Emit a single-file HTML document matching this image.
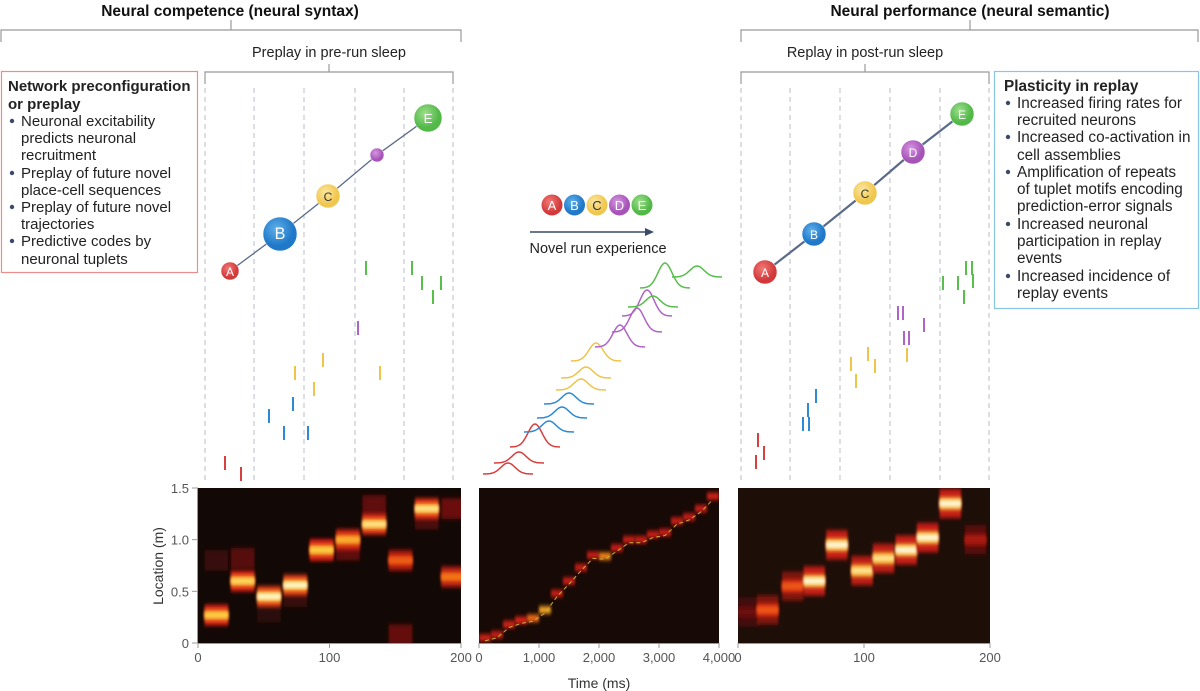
<!DOCTYPE html>
<html><head><meta charset="utf-8"><style>
html,body{margin:0;padding:0;background:#fff;}
svg{display:block;font-family:"Liberation Sans",sans-serif;}
</style></head><body>
<svg id="fig" width="1200" height="691" viewBox="0 0 1200 691" xmlns="http://www.w3.org/2000/svg">
<defs>
<filter id="blur" x="-30%" y="-60%" width="160%" height="220%"><feGaussianBlur stdDeviation="1.2 2.2"/></filter>
<clipPath id="clipL"><rect x="198" y="488" width="263" height="155"/></clipPath>
<clipPath id="clipM"><rect x="479" y="488" width="240" height="155"/></clipPath>
<clipPath id="clipR"><rect x="738" y="488" width="252" height="155"/></clipPath>
<radialGradient id="gA" cx="40%" cy="35%"><stop offset="0" stop-color="#f07a78"/><stop offset="1" stop-color="#d23a3a"/></radialGradient>
<radialGradient id="gB" cx="40%" cy="35%"><stop offset="0" stop-color="#5fb0ea"/><stop offset="1" stop-color="#1f78c8"/></radialGradient>
<radialGradient id="gC" cx="40%" cy="35%"><stop offset="0" stop-color="#fce7a0"/><stop offset="1" stop-color="#f0c74e"/></radialGradient>
<radialGradient id="gD" cx="40%" cy="35%"><stop offset="0" stop-color="#d595e0"/><stop offset="1" stop-color="#a653b8"/></radialGradient>
<radialGradient id="gE" cx="40%" cy="35%"><stop offset="0" stop-color="#9ee08c"/><stop offset="1" stop-color="#52b848"/></radialGradient>
</defs>

<text x="230" y="16" text-anchor="middle" font-size="15.5" font-weight="bold" fill="#111">Neural competence (neural syntax)</text>
<text x="970" y="16" text-anchor="middle" font-size="15.5" font-weight="bold" fill="#111">Neural performance (neural semantic)</text>
<g stroke="#999" stroke-width="1.2" fill="none">
<path d="M1 42V30H461V42M231 30V20"/>
<path d="M741 42V30H1198V42M970 30V20"/>
<path d="M205 84V72H453V84M329 72V64"/>
<path d="M741 84V72H989V84M865 72V64"/>
</g>
<text x="329" y="57" text-anchor="middle" font-size="14.5" fill="#222">Preplay in pre-run sleep</text>
<text x="865" y="57" text-anchor="middle" font-size="14.5" fill="#222">Replay in post-run sleep</text>

<g>
<rect x="1.5" y="71.5" width="196" height="201" fill="#fff" stroke="#ec8c8c" stroke-width="1.2"/>
<g font-size="15" fill="#222">
<text x="8" y="91" font-weight="bold">Network preconfiguration</text>
<text x="8" y="109" font-weight="bold">or preplay</text>
<text x="21" y="126">Neuronal excitability</text>
<text x="21" y="143">predicts neuronal</text>
<text x="21" y="160">recruitment</text>
<text x="21" y="178">Preplay of future novel</text>
<text x="21" y="195">place-cell sequences</text>
<text x="21" y="212">Preplay of future novel</text>
<text x="21" y="229">trajectories</text>
<text x="21" y="246">Predictive codes by</text>
<text x="21" y="264">neuronal tuplets</text>
</g>
<g fill="#3a4a6a"><circle cx="12" cy="121" r="2.2"/><circle cx="12" cy="173" r="2.2"/><circle cx="12" cy="207" r="2.2"/><circle cx="12" cy="241" r="2.2"/></g>
</g>

<g>
<rect x="994.5" y="71.5" width="204" height="237" fill="#fff" stroke="#8ac4e6" stroke-width="1.2"/>
<g font-size="15.3" fill="#222">
<text x="1004" y="91" font-weight="bold">Plasticity in replay</text>
<text x="1017" y="108">Increased firing rates for</text>
<text x="1017" y="125">recruited neurons</text>
<text x="1017" y="142">Increased co-activation in</text>
<text x="1017" y="160">cell assemblies</text>
<text x="1017" y="177">Amplification of repeats</text>
<text x="1017" y="194">of tuplet motifs encoding</text>
<text x="1017" y="211">prediction-error signals</text>
<text x="1017" y="229">Increased neuronal</text>
<text x="1017" y="246">participation in replay</text>
<text x="1017" y="263">events</text>
<text x="1017" y="281">Increased incidence of</text>
<text x="1017" y="298">replay events</text>
</g>
<g fill="#3a4a6a"><circle cx="1008" cy="103" r="2.2"/><circle cx="1008" cy="137" r="2.2"/><circle cx="1008" cy="172" r="2.2"/><circle cx="1008" cy="224" r="2.2"/><circle cx="1008" cy="276" r="2.2"/></g>
</g>

<g>
<path d="M530 232H648" stroke="#3a4a6a" stroke-width="1.5"/>
<path d="M654 232L645 228V236Z" fill="#3a4a6a"/>
<text x="598" y="253" text-anchor="middle" font-size="14.5" fill="#222">Novel run experience</text>
</g>
</svg>
<script>
// ---------- data ----------
const sequenceLetters = ["A","B","C","D","E"];
const leftNodes = [ {l:"A",x:230,y:271,r:9},{l:"B",x:280,y:234,r:17},{l:"C",x:328,y:196,r:12},{l:"D",x:377,y:155,r:7,noText:true},{l:"E",x:428,y:118,r:14} ];
const rightNodes = [ {l:"A",x:765,y:272,r:12},{l:"B",x:814,y:234,r:12},{l:"C",x:865,y:193,r:12},{l:"D",x:913,y:152,r:12},{l:"E",x:962,y:114,r:12} ];
const leftSpikes = [[225,463,0],[241,474,0],[269,416,1],[284,433,1],[293,404,1],[308,433,1],[295,373,2],[314,389,2],[323,360,2],[380,373,2],[358,328,3],[366,268,4],[412,268,4],[422,283,4],[433,297,4],[441,283,4]];
const rightSpikes = [[758,440,0],[764,453,0],[756,462,0],[816,396,1],[808,410,1],[803,424,1],[809,424,1],[851,364,2],[868,354,2],[875,366,2],[856,381,2],[907,355,2],[898,313,3],[903,313,3],[924,325,3],[904,338,3],[909,338,3],[943,283,4],[958,283,4],[966,268,4],[972,268,4],[964,297,4],[973,281,4]];
const colours = ["#d6403f","#2d8bd6","#f0c44a","#b064c4","#58be4c"];
const bumpStart = [483,494,510,524,537,544,556,561,571,595,612,622,628,640,672];
const bumpBase  = [474,463,447,432,418,404,390,378,361,347,332,316,307,288,277];
const bumpHeight= [11,11,23,11,11,11,11,11,18,22,24,26,11,25,11];
const bumpColour= [0,0,0,1,1,1,2,2,2,3,3,3,4,4,4];
const leftCols   = [5,25,45,65,85,105,125,145,165,185];
const leftPeak   = [0.27,0.6,0.45,0.56,0.9,1.0,1.15,0.8,1.3,0.64];
const leftInt    = [0.9,0.92,1.0,1.0,0.9,0.85,0.95,0.7,0.95,0.75];
const leftSec    = [[0.8,0.25],[0.82,0.5],[0.3,0.15],[0.45,0.25],[0.9,0.6],[0.9,0.55],[1.33,0.55],[0.08,0.6],[1.2,0.4],[1.3,0.65]];
const midTimes   = [0,200,400,600,800,1000,1200,1400,1600,1800,2000,2200,2400,2600,2800,3000,3200,3400,3600,3800];
const midPeak    = [0.05,0.08,0.18,0.22,0.24,0.32,0.48,0.6,0.73,0.85,0.84,0.92,1.0,1.0,1.05,1.07,1.18,1.22,1.3,1.42];
const midInt     = [0.52,0.5,0.52,0.55,0.7,0.8,0.5,0.5,0.5,0.5,0.75,0.5,0.5,0.5,0.5,0.5,0.5,0.5,0.5,0.52];
const rightCols  = [0,15,35,52,70,90,107,125,142,160,180];
const rightPeak  = [0.3,0.32,0.55,0.6,0.95,0.7,0.82,0.9,1.02,1.35,1.0];
const rightInt   = [0.3,0.68,0.68,1.0,1.0,0.95,0.95,1.0,1.0,1.0,0.45];
// ---------- helpers ----------
const NS="http://www.w3.org/2000/svg";
const svg=document.getElementById('fig');
function mk(t,a,p){const e=document.createElementNS(NS,t);for(const k in a)e.setAttribute(k,a[k]);(p||svg).appendChild(e);return e;}
function fire(v){v=Math.max(0,Math.min(1,v));
 const st=[[0,[22,10,6]],[0.3,[110,15,10]],[0.55,[220,35,25]],[0.75,[245,130,20]],[0.9,[252,225,80]],[1,[255,255,245]]];
 for(let i=1;i<st.length;i++){if(v<=st[i][0]){const a=st[i-1],b=st[i],t=(v-a[0])/(b[0]-a[0]);return 'rgb('+a[1].map((c,j)=>Math.round(c+(b[1][j]-c)*t)).join(',')+')';}}
 return 'rgb(255,255,245)';}
[205,254,304,355,404,453].forEach(x=>{const l=mk('line',{x1:x,y1:88,x2:x,y2:480,stroke:'#b8bccb','stroke-dasharray':'5,4','stroke-width':1});
});
[741,790,840,890,940,989].forEach(x=>{const l=mk('line',{x1:x,y1:88,x2:x,y2:480,stroke:'#b8bccb','stroke-dasharray':'5,4','stroke-width':1});
});
function chain(nodes,w,prefix){
 const p=mk('polyline',{points:nodes.map(n=>n.x+','+n.y).join(' '),fill:'none',stroke:'#5a6a88','stroke-width':w});
 
 nodes.forEach((n,i)=>{const c=mk('circle',{cx:n.x,cy:n.y,r:n.r,fill:'url(#g'+n.l+')',stroke:'#fff','stroke-width':0.5});
  
  if(!n.noText){const t=mk('text',{x:n.x,y:n.y+5,'text-anchor':'middle','font-size':Math.max(12,n.r*0.95),fill:(n.l==='C'?'#333':'#fff')});t.textContent=n.l;
   }});
}
chain(leftNodes,1.3,'preplay');chain(rightNodes,2.2,'replay');
sequenceLetters.forEach((l,i)=>{const x=552+i*22.5;
 const c=mk('circle',{cx:x,cy:205,r:11,fill:'url(#g'+l+')',stroke:'#fff','stroke-width':1});
 
 const t=mk('text',{x:x,y:210,'text-anchor':'middle','font-size':13,fill:(l==='C'?'#333':'#fff')});t.textContent=l;
 });
function spikes(arr,prefix){arr.forEach(s=>{const l=mk('line',{x1:s[0],y1:s[1]-7,x2:s[0],y2:s[1]+7,stroke:colours[s[2]],'stroke-width':2});
 });}
spikes(leftSpikes,'preplay');spikes(rightSpikes,'replay');
bumpStart.forEach((x0,i)=>{let d='';for(let k=0;k<=50;k++){const x=x0+k;const y=bumpBase[i]-bumpHeight[i]*Math.exp(-Math.pow((k-25)/10,2));d+=(k?'L':'M')+x.toFixed(1)+' '+y.toFixed(1);}
 const p=mk('path',{d:d,fill:'none',stroke:colours[bumpColour[i]],'stroke-width':1.5});
 });
const Y0=643,Y1=488; function yl(m){return Y0-(m/1.5)*(Y0-Y1);}
let curG=svg;
function panel(x0,x1,xmax,name,bg,clip){const r=mk('rect',{x:x0,y:Y1,width:x1-x0,height:Y0-Y1,fill:bg});
 
 curG=mk('g',{'clip-path':'url(#'+clip+')'});
 
 return v=>x0+(v/xmax)*(x1-x0);}
function blob(x,w,m,h,v,name){const r=mk('rect',{x:x,y:yl(m+h/2),width:w,height:yl(m-h/2)-yl(m+h/2),fill:fire(v),filter:'url(#blur)'},curG);
 }
const lx=panel(198,461,200,'preplay','#120805','clipL');
leftCols.forEach((c,i)=>{const x=lx(c),w=lx(c+18)-lx(c);
 blob(x,w,leftSec[i][0],0.2,leftSec[i][1]*0.45,'preplay-bin-secondary');
 blob(x,w,leftPeak[i],0.2,leftInt[i]*0.6,'preplay-bin-halo');
 blob(x,w,leftPeak[i],0.1,leftInt[i]*0.88,'preplay-bin-mid');
 blob(x,w,leftPeak[i],0.04,leftInt[i],'preplay-bin-peak');});
const mx=panel(479,719,4000,'run','#170905','clipM');
midTimes.forEach((t,i)=>{const x=mx(t),w=mx(t+200)-mx(t);
 blob(x,w,midPeak[i],0.07,midInt[i],'run-bin-peak');});
let dd='';midTimes.forEach((t,i)=>{dd+=(i?'L':'M')+mx(t+100).toFixed(1)+' '+(yl(midPeak[i]-0.03)).toFixed(1);});
const dl=mk('path',{d:dd,fill:'none',stroke:'#c8b040','stroke-width':1,'stroke-dasharray':'4,3'},curG);

const rx=panel(738,990,200,'replay','#1e0e08','clipR');
rightCols.forEach((c,i)=>{const x=rx(c),w=rx(c+17)-rx(c);
 blob(x,w,rightPeak[i],0.28,rightInt[i]*0.5,'replay-bin-halo');
 blob(x,w,rightPeak[i],0.12,rightInt[i]*0.85,'replay-bin-mid');
 blob(x,w,rightPeak[i],0.05,rightInt[i],'replay-bin-peak');});
function axis(x0,x1,ticks,labels,name){const g=mk('g',{});
 mk('line',{x1:x0,y1:Y0+0.5,x2:x1,y2:Y0+0.5,stroke:'#999'},g);
 ticks.forEach((t,i)=>{mk('line',{x1:t,y1:Y0,x2:t,y2:Y0+5,stroke:'#999'},g);
  const tx=mk('text',{x:t,y:Y0+19,'text-anchor':'middle','font-size':13,fill:'#555'},g);tx.textContent=labels[i];});}
const spTicks=[0,100,200], spLabels=["0","100","200"];
const tmTicks=[0,1000,2000,3000,4000], tmLabels=["0","1,000","2,000","3,000","4,000"];
axis(198,461,spTicks.map(lx),spLabels,'preplay-x-axis');
axis(479,719,tmTicks.map(mx),tmLabels,'run-x-axis');
axis(738,990,spTicks.map(rx),spLabels,'replay-x-axis');
const ya=mk('g',{});
mk('line',{x1:197.5,y1:Y1,x2:197.5,y2:Y0,stroke:'#999'},ya);
const locTicks=[0,0.5,1.0,1.5],locLabels=["0","0.5","1.0","1.5"];
locTicks.forEach((m,i)=>{mk('line',{x1:192,y1:yl(m),x2:198,y2:yl(m),stroke:'#999'},ya);
 const t=mk('text',{x:189,y:yl(m)+5,'text-anchor':'end','font-size':13,fill:'#555'},ya);t.textContent=locLabels[i];});
const yt=mk('text',{x:163,y:566,'text-anchor':'middle','font-size':14,fill:'#333',transform:'rotate(-90 163 566)'});yt.textContent='Location (m)';

const xt=mk('text',{x:599,y:688,'text-anchor':'middle','font-size':14,fill:'#333'});xt.textContent='Time (ms)';

</script>
</body></html>
